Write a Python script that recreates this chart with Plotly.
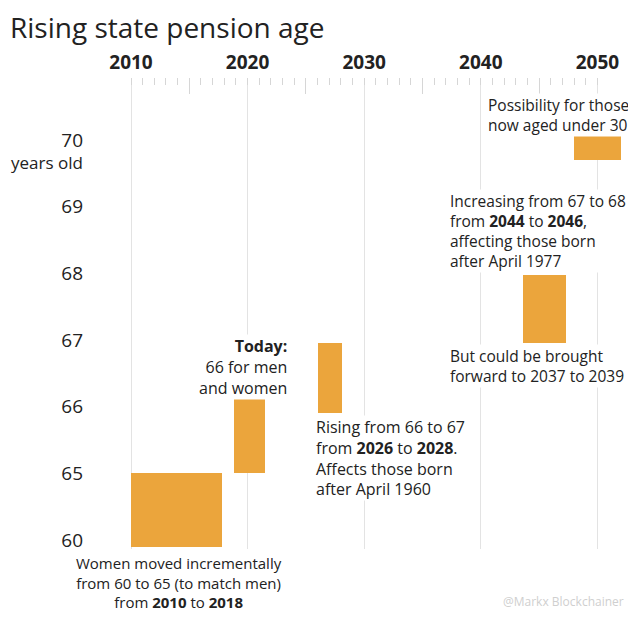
import plotly.graph_objects as go

# ---- data ----
age_labels = ["60", "65", "66", "67", "68", "69", "70"]
age_positions = [0, 1, 2, 3, 4, 5, 6]
decade_ticks = [2010, 2020, 2030, 2040, 2050]
year_ticks = list(range(2010, 2051))
half_decade_ticks = [2015, 2025, 2035, 2045]

bar_start = [2010.0, 2018.8, 2026.0, 2043.6, 2048.0]
bar_end = [2017.8, 2021.5, 2028.1, 2047.3, 2052.0]
bar_low = [-0.1, 1.0, 1.9, 2.96, 5.7]
bar_high = [1.0, 2.12, 2.96, 3.98, 6.06]

centers = [(a + b) / 2 for a, b in zip(bar_start, bar_end)]
widths = [b - a for a, b in zip(bar_start, bar_end)]
heights = [h - l for l, h in zip(bar_low, bar_high)]

FONT = "Open Sans"
TXT = "#222222"
ORANGE = "#EBA53C"

# page body adds an 8px margin; the figure is sized to fit the window without scrolling
W, H = 620, 604
L, R, T, B = 80, 0, 70, 63
PW, PH = W - L - R, H - T - B

fig = go.Figure()
fig.add_trace(go.Bar(
    x=centers, y=heights, base=bar_low, width=widths,
    marker=dict(color=ORANGE, line=dict(width=0)),
    hoverinfo="skip", showlegend=False,
))
fig.add_trace(go.Scatter(x=[2010, 2050], y=[0, 0], xaxis="x2", mode="markers",
                         marker=dict(opacity=0), hoverinfo="skip", showlegend=False))

x0 = 2010 - (131 - 88) / 11.66
x1 = 2010 + (628 - 131) / 11.66
y0 = (540 - 549) / 66.67
y1 = (540 - 78) / 66.67


def px(sx):  # screen x -> paper x
    return (sx - 8 - L) / PW


def py(sy):  # screen y -> paper y
    return (H - B - (sy - 8)) / PH


fig.update_layout(
    width=W, height=H,
    margin=dict(l=L, r=R, t=T, b=B),
    paper_bgcolor="white", plot_bgcolor="white",
    font=dict(family=FONT, color=TXT),
    title=dict(text="Rising state pension age", x=2 / W, xanchor="left",
               y=1 - 20 / H, yanchor="middle", yref="container", xref="container",
               font=dict(family=FONT, size=28, color=TXT)),
    xaxis=dict(range=[x0, x1], side="top", tickmode="array", tickvals=decade_ticks,
               ticktext=[str(t) for t in decade_ticks],
               tickfont=dict(family=FONT, size=19, color=TXT, weight="bold"),
               showgrid=True, gridcolor="#e3e3e3", gridwidth=1,
               ticks="inside", ticklen=7, tickcolor="#d6d6d6",
               ticklabelstandoff=4,
               minor=dict(tickmode="array", tickvals=year_ticks, ticks="inside",
                          ticklen=7, tickcolor="#d6d6d6", showgrid=False),
               showline=False, zeroline=False, fixedrange=True),
    xaxis2=dict(range=[x0, x1], overlaying="x", side="top", anchor="y",
                tickmode="array", tickvals=half_decade_ticks, showticklabels=False,
                ticks="inside", ticklen=16, tickcolor="#d6d6d6", showgrid=False,
                showline=False, zeroline=False, matches="x"),
    yaxis=dict(range=[y0, y1], tickmode="array", tickvals=age_positions, ticktext=age_labels,
               tickfont=dict(family=FONT, size=19, color=TXT),
               showgrid=False, zeroline=False, showline=False, ticks="",
               ticklabelstandoff=4, fixedrange=True),
    bargap=0,
)


def text_block(lines, sx, center_sy, anchor, size=16, bg="white"):
    fig.add_annotation(text="<br>".join(lines), xref="paper", yref="paper",
                       x=px(sx), y=py(center_sy),
                       xanchor=anchor, yanchor="middle", align=anchor,
                       showarrow=False, bgcolor=bg, borderpad=0,
                       font=dict(family=FONT, size=size, color=TXT))


text_block(["years old"], 84, 162, "right", size=17, bg="rgba(0,0,0,0)")
text_block(["Women moved incrementally", "from 60 to 65 (to match men)",
            "from <b>2010</b> to <b>2018</b>"], 179, 582.5, "center", size=15)
text_block(["<b>Today:</b>", "66 for men", "and women"], 288, 367, "right")
text_block(["Rising from 66 to 67", "from <b>2026</b> to <b>2028</b>.",
            "Affects those born", "after April 1960"], 315, 458, "left")
text_block(["But could be brought", "forward to 2037 to 2039"], 449, 366, "left", size=15.5)
text_block(["Increasing from 67 to 68", "from <b>2044</b> to <b>2046</b>,",
            "affecting those born", "after April 1977"], 449, 231, "left", size=15.5)
text_block(["Possibility for those", "now aged under 30"], 487, 115, "left", size=15.5)

fig.add_annotation(text="@Markx Blockchainer", xref="paper", yref="paper",
                   x=px(626), y=py(601), xanchor="right", yanchor="middle",
                   showarrow=False, font=dict(family=FONT, size=12, color="#cfcfcf"))

fig.write_html("out.html")
